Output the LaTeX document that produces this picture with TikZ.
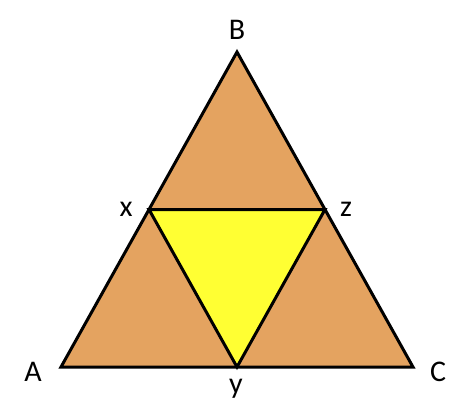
\documentclass[tikz,border=0pt]{standalone}
\usepackage{fontspec}
\setmainfont{Carlito}
\usetikzlibrary{calc}
\definecolor{triorange}{RGB}{228,163,96}
\definecolor{triyellow}{RGB}{255,255,51}
\begin{document}
\begin{tikzpicture}[x=1pt,y=1pt,
  lbl/.style={font=\fontsize{30}{34}\selectfont, inner sep=0pt},
  edge/.style={draw=black, line width=3pt, line join=miter}]
\useasboundingbox (0,0) rectangle (474,416);
\coordinate (A) at (61,49);
\coordinate (C) at (413,49);
\coordinate (B) at (237,364);
\coordinate (X) at ($(A)!0.5!(B)$);
\coordinate (Z) at ($(B)!0.5!(C)$);
\coordinate (Y) at ($(A)!0.5!(C)$);
\fill[triorange] (A) -- (B) -- (C) -- cycle;
\fill[triyellow] (X) -- (Z) -- (Y) -- cycle;
\draw[edge] (A) -- (B) -- (C) -- cycle;
\draw[edge] (X) -- (Z) -- (Y) -- cycle;
\node[lbl] (lB) at (237,386) {B};
\node[lbl] (lx) at (126,207) {x};
\node[lbl] (lz) at (346,207) {z};
\node[lbl] (lA) at (33,44) {A};
\node[lbl] (ly) at (236,27) {y};
\node[lbl] (lC) at (438,44) {C};
\end{tikzpicture}
\end{document}
